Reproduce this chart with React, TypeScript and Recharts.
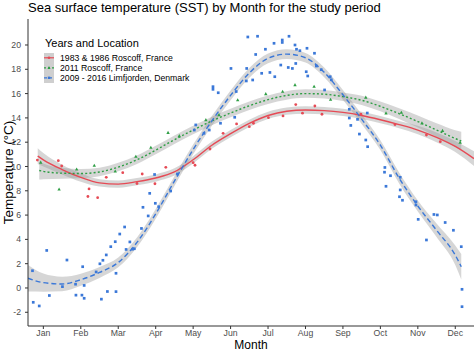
import React from 'react';
import { ComposedChart, XAxis, YAxis, Line, Area, Scatter } from 'recharts';

const FONT = '"Liberation Sans", Arial, Helvetica, sans-serif';

// Axis categories / ticks
const monthLabels = ['Jan', 'Feb', 'Mar', 'Apr', 'May', 'Jun', 'Jul', 'Aug', 'Sep', 'Oct', 'Nov', 'Dec'];
const monthTicks = [1, 2, 3, 4, 5, 6, 7, 8, 9, 10, 11, 12];
const tempTicks = [-2, 0, 2, 4, 6, 8, 10, 12, 14, 16, 18, 20];

const seriesNames = ['1983 & 1986 Roscoff, France', '2011 Roscoff, France', '2009 - 2016 Limfjorden, Denmark'];
const RED = '#E64A55';
const GREEN = '#2E9E44';
const BLUE = '#3B78D8';

// Observations: 1983 & 1986 Roscoff
const redPtMonth = [0.84, 1.4, 1.49, 2.22, 2.19, 2.45, 2.68, 3.12, 3.5, 3.64, 3.98, 4.27, 5.0, 5.05, 5.45, 5.8, 6.16, 6.5, 6.61, 7.01, 7.4, 7.74, 7.92, 8.25, 8.44, 9.48, 10.39, 11.23, 11.6];
const redPtTemp = [10.53, 10.48, 10.04, 8.15, 7.53, 7.43, 9.11, 9.49, 8.6, 9.38, 8.58, 9.93, 10.31, 10.1, 11.44, 12.73, 13.5, 13.28, 13.56, 14.02, 14.16, 15.1, 14.39, 14.98, 14.3, 14.3, 13.45, 12.59, 12.04];

// Observations: 2011 Roscoff
const greenPtMonth = [0.93, 1.42, 1.89, 2.36, 2.92, 3.47, 3.87, 4.33, 4.63, 5.34, 5.69, 6.19, 6.94, 7.39, 7.72, 8.23, 8.67, 9.61, 10.15, 10.56, 11.11, 11.66, 12.13];
const greenPtTemp = [10.33, 8.12, 9.77, 10.07, 9.6, 10.81, 11.56, 12.78, 12.51, 13.83, 14.24, 15.47, 15.97, 16.16, 16.71, 16.58, 15.51, 15.68, 14.38, 14.43, 13.56, 12.94, 11.98];

// Observations: 2009 - 2016 Limfjorden
const bluePtMonth = [0.71, 0.73, 0.89, 1.09, 1.16, 1.51, 1.63, 1.86, 1.87, 2.03, 2.09, 2.09, 2.05, 2.41, 2.51, 2.55, 2.59, 2.68, 2.71, 2.8, 2.92, 2.94, 2.94, 3.04, 3.17, 3.21, 3.38, 3.43, 3.31, 3.62, 3.66, 3.8, 3.84, 3.97, 3.99, 4.08, 4.4, 4.58, 5.03, 5.07, 5.29, 5.43, 5.53, 5.53, 5.67, 5.73, 6.01, 6.15, 6.11, 6.43, 6.42, 6.46, 6.72, 6.67, 6.93, 6.59, 6.83, 7.05, 7.18, 7.16, 7.34, 7.38, 7.38, 7.56, 7.54, 7.65, 7.74, 7.72, 7.76, 7.85, 8.04, 8.24, 8.02, 8.06, 8.29, 8.42, 8.66, 8.69, 8.51, 9.17, 9.17, 9.21, 9.44, 9.61, 9.66, 9.65, 9.39, 10.12, 10.11, 10.15, 10.27, 10.53, 10.53, 10.51, 10.59, 10.95, 10.95, 11.01, 11.23, 11.43, 11.52, 11.73, 11.95, 12.16, 12.18, 12.18];
const bluePtTemp = [1.42, -1.18, -1.48, 3.09, -0.62, 0.11, 2.3, 0.31, -0.59, -0.59, -0.85, 0.21, 1.75, 1.32, 1.99, -0.92, 2.28, 2.72, -0.29, 3.4, 3.81, 1.21, -0.3, 4.44, 5.02, 3.17, 3.19, 3.23, 3.79, 4.9, 6.64, 5.93, 7.79, 9.34, 6.97, 6.69, 7.98, 9.38, 13.0, 13.42, 12.73, 13.0, 16.57, 16.35, 16.07, 13.56, 18.07, 16.17, 14.05, 18.07, 17.04, 20.66, 20.72, 19.22, 19.65, 17.12, 17.67, 17.74, 17.39, 20.14, 18.35, 20.41, 20.21, 20.72, 18.15, 18.07, 18.48, 20.0, 19.65, 19.53, 19.73, 19.32, 17.8, 17.45, 18.27, 17.97, 17.39, 17.14, 16.3, 14.71, 13.99, 13.38, 12.67, 12.18, 11.63, 14.4, 13.88, 9.92, 9.53, 8.37, 9.24, 9.11, 8.07, 7.51, 7.22, 7.1, 6.83, 5.65, 3.95, 6.05, 6.01, 5.39, 4.75, 3.4, -0.11, -1.54];

// Smoothed fits (loess) and half-widths of their confidence bands
const redFitMonth = [0.85, 1, 1.5, 2, 2.5, 3, 3.5, 4, 4.5, 5, 5.5, 6, 6.5, 7, 7.5, 8, 8.5, 9, 9.5, 10, 10.5, 11, 11.5, 12, 12.5];
const redFitTemp = [10.86, 10.55, 9.75, 9.1, 8.65, 8.55, 8.75, 9.05, 9.55, 10.55, 11.75, 12.7, 13.55, 14.2, 14.55, 14.65, 14.6, 14.45, 14.2, 13.85, 13.45, 13.0, 12.4, 11.65, 10.65];
const redBandHalf = [0.65, 0.55, 0.4, 0.35, 0.3, 0.3, 0.3, 0.3, 0.3, 0.3, 0.3, 0.3, 0.3, 0.3, 0.3, 0.3, 0.3, 0.3, 0.3, 0.3, 0.3, 0.35, 0.4, 0.45, 0.6];

const greenFitMonth = [0.89, 1, 1.5, 2, 2.5, 3, 3.5, 4, 4.5, 5, 5.5, 6, 6.5, 7, 7.5, 8, 8.5, 9, 9.5, 10, 10.5, 11, 11.5, 12, 12.16];
const greenFitTemp = [9.67, 9.6, 9.45, 9.42, 9.55, 9.95, 10.55, 11.35, 12.2, 13.0, 13.75, 14.4, 15.0, 15.5, 15.85, 16.0, 15.95, 15.75, 15.45, 14.95, 14.35, 13.7, 13.0, 12.3, 12.1];
const greenBandHalf = [0.75, 0.65, 0.45, 0.38, 0.35, 0.35, 0.35, 0.35, 0.35, 0.35, 0.35, 0.35, 0.35, 0.35, 0.35, 0.35, 0.35, 0.35, 0.38, 0.4, 0.45, 0.5, 0.55, 0.68, 0.75];

const blueFitMonth = [0.59, 1, 1.5, 2, 2.5, 3, 3.5, 4, 4.5, 5, 5.5, 6, 6.5, 7, 7.5, 8, 8.5, 9, 9.5, 10, 10.5, 11, 11.5, 12, 12.16];
const blueFitTemp = [0.8, 0.44, 0.33, 0.68, 1.28, 2.1, 3.75, 6.1, 8.8, 11.4, 13.75, 15.85, 17.7, 18.9, 19.25, 18.95, 17.75, 15.9, 13.9, 11.75, 9.05, 6.75, 4.75, 2.7, 1.75];
const blueBandHalf = [1.1, 0.75, 0.6, 0.5, 0.45, 0.4, 0.4, 0.4, 0.4, 0.4, 0.4, 0.4, 0.4, 0.4, 0.4, 0.4, 0.4, 0.4, 0.4, 0.4, 0.45, 0.45, 0.55, 0.8, 1.05];

const toPoints = (ms: number[], vs: number[]) => ms.map((m, i) => ({ m, v: vs[i] }));
const toFit = (ms: number[], vs: number[], hs: number[]) =>
  ms.map((m, i) => ({ m, v: vs[i], band: [vs[i] - hs[i], vs[i] + hs[i]] }));

const redPts = toPoints(redPtMonth, redPtTemp);
const greenPts = toPoints(greenPtMonth, greenPtTemp);
const bluePts = toPoints(bluePtMonth, bluePtTemp);
const redFit = toFit(redFitMonth, redFitTemp, redBandHalf);
const greenFit = toFit(greenFitMonth, greenFitTemp, greenBandHalf);
const blueFit = toFit(blueFitMonth, blueFitTemp, blueBandHalf);

const X_DOMAIN: [number, number] = [0.59, 12.5];
const Y_DOMAIN: [number, number] = [-3.13, 22.14];

const Dot = (color: string) => (p: any) => <circle cx={p.cx} cy={p.cy} r={1.4} fill={color} />;
const Tri = (color: string) => (p: any) => (
  <polygon points={`${p.cx},${p.cy - 1.9} ${p.cx - 1.7},${p.cy + 1.2} ${p.cx + 1.7},${p.cy + 1.2}`} fill={color} />
);
const Sq = (color: string) => (p: any) => <rect x={p.cx - 1.35} y={p.cy - 1.35} width={2.7} height={2.7} fill={color} />;

const tickStyle = { fontSize: 8.7, fill: '#4d4d4d', fontFamily: FONT };

export default function App() {
  const legendRows = [
    { name: seriesNames[0], color: RED, dash: undefined as string | undefined, kind: 'dot' },
    { name: seriesNames[1], color: GREEN, dash: '2 2', kind: 'tri' },
    { name: seriesNames[2], color: BLUE, dash: '3 2', kind: 'sq' },
  ];
  return (
    <div style={{ position: 'absolute', left: 0, top: 0, width: 474, height: 351, overflow: 'hidden', background: '#fff', fontFamily: FONT }}>
      <ComposedChart width={474} height={351} margin={{ top: 19, right: 0, bottom: 0, left: 0 }}>
        <XAxis xAxisId="top" orientation="top" type="number" domain={X_DOMAIN} allowDataOverflow height={0} tick={false} tickLine={false} axisLine={{ stroke: '#333', strokeWidth: 1 }} />
        <XAxis
          type="number"
          dataKey="m"
          domain={X_DOMAIN}
          allowDataOverflow
          ticks={monthTicks}
          interval={0}
          tickFormatter={(v: number) => monthLabels[v - 1]}
          height={25}
          tickSize={3}
          tickMargin={1}
          tick={tickStyle}
          axisLine={{ stroke: '#333', strokeWidth: 1 }}
          tickLine={{ stroke: '#333' }}
        />
        <YAxis
          type="number"
          dataKey="v"
          domain={Y_DOMAIN}
          allowDataOverflow
          ticks={tempTicks}
          interval={0}
          width={28}
          tickSize={3}
          tickMargin={4}
          tick={tickStyle}
          axisLine={{ stroke: '#333', strokeWidth: 1 }}
          tickLine={{ stroke: '#333' }}
        />
        <Scatter data={redPts} dataKey="v" shape={Dot(RED)} isAnimationActive={false} />
        <Scatter data={greenPts} dataKey="v" shape={Tri(GREEN)} isAnimationActive={false} />
        <Scatter data={bluePts} dataKey="v" shape={Sq(BLUE)} isAnimationActive={false} />
        <Area data={redFit} dataKey="band" type="monotone" stroke="none" fill="#999999" fillOpacity={0.4} dot={false} activeDot={false} isAnimationActive={false} />
        <Line data={redFit} dataKey="v" type="monotone" stroke={RED} strokeWidth={1.4} dot={false} activeDot={false} isAnimationActive={false} />
        <Area data={greenFit} dataKey="band" type="monotone" stroke="none" fill="#999999" fillOpacity={0.4} dot={false} activeDot={false} isAnimationActive={false} />
        <Line data={greenFit} dataKey="v" type="monotone" stroke={GREEN} strokeWidth={1.4} strokeDasharray="2 2.2" dot={false} activeDot={false} isAnimationActive={false} />
        <Area data={blueFit} dataKey="band" type="monotone" stroke="none" fill="#999999" fillOpacity={0.4} dot={false} activeDot={false} isAnimationActive={false} />
        <Line data={blueFit} dataKey="v" type="monotone" stroke={BLUE} strokeWidth={1.4} strokeDasharray="5 3" dot={false} activeDot={false} isAnimationActive={false} />
      </ComposedChart>
      <svg width={474} height={351} style={{ position: 'absolute', left: 0, top: 0, pointerEvents: 'none' }}>
        <text x={28} y={11.5} fontSize={13} fill="#000" fontFamily={FONT}>Sea surface temperature (SST) by Month for the study period</text>
        <text x={251} y={348.5} fontSize={12} fill="#000" fontFamily={FONT} textAnchor="middle">Month</text>
        <text x={12.5} y={172.5} fontSize={13.5} fill="#000" fontFamily={FONT} textAnchor="middle" transform="rotate(-90 12.5 172.5)">Temperature (°C)</text>
        <text x={45} y={46.7} fontSize={11} fill="#000" fontFamily={FONT}>Years and Location</text>
        <rect x={44} y={53} width={10} height={30} fill="#cfcfcf" />
        {legendRows.map((r, i) => {
          const cy = 57.8 + i * 10;
          return (
            <g key={r.name}>
              <line x1={44} x2={54} y1={cy} y2={cy} stroke={r.color} strokeWidth={1.2} strokeDasharray={r.dash} />
              {r.kind === 'dot' && <circle cx={49} cy={cy} r={1.3} fill={r.color} />}
              {r.kind === 'tri' && <polygon points={`49,${cy - 1.7} 47.5,${cy + 1.1} 50.5,${cy + 1.1}`} fill={r.color} />}
              {r.kind === 'sq' && <rect x={47.8} y={cy - 1.2} width={2.4} height={2.4} fill={r.color} />}
              <text x={60} y={cy + 3.1} fontSize={8.7} fill="#000" fontFamily={FONT}>{r.name}</text>
            </g>
          );
        })}
      </svg>
    </div>
  );
}
